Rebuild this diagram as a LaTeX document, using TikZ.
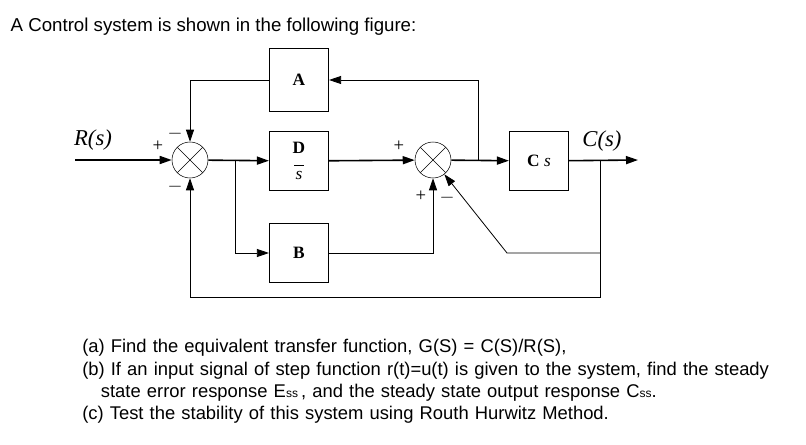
\documentclass[tikz,border=0pt]{standalone}
\usepackage{fontspec}
\setmainfont{Liberation Sans}
\newfontfamily\tms{Liberation Serif}
\usetikzlibrary{arrows.meta}

\begin{document}
\begin{tikzpicture}[x=0.75pt,y=-0.75pt,
    block/.style={draw, line width=1.1pt, minimum width=44pt, minimum height=44pt, font=\tms\bfseries\fontsize{13}{13}\selectfont},
    summ/.style={draw, circle, minimum size=27pt, inner sep=0pt, path picture={
      \draw (path picture bounding box.north west) -- (path picture bounding box.south east)
            (path picture bounding box.north east) -- (path picture bounding box.south west);}},
    sig/.style={font=\tms\fontsize{14}{14}\selectfont, inner sep=0pt},
    lbl/.style={font=\tms\itshape\fontsize{17}{17}\selectfont},
    >={Triangle[length=9pt,width=6pt]}]
  \useasboundingbox (0,0) rectangle (806,445);
  % title
  \node[anchor=west, font=\fontsize{14}{16}\selectfont] (title) at (6,27) {A Control system is shown in the following figure:};
  % define nodes
  \node[summ] (sum1) at (190,160) {};
  \node[summ] (sum2) at (433,160) {};
  \node[block, minimum height=47pt] (ba) at (299,80) {A};
  \node[block, align=center] (bd) at (299,161) {D\\[-4pt]\rule{7pt}{0.5pt}\\[-3pt]\mdseries\itshape s};
  \node[block] (bb) at (299,253) {B};
  \node[block] (bc) at (539,161) {C\ \mdseries\itshape s};
  \coordinate (rin) at (75,160);
  \coordinate (cout) at (638,160);
  \coordinate (pout) at (600,160);
  \coordinate (ptop) at (478,160);
  \coordinate (pbr) at (235,160);
  \coordinate (pdiag) at (507,253);
  % labels
  \node[lbl] (rs) at (93,140) {R(s)};
  \node[lbl] (cs) at (602,141) {C(s)};
  \node[sig] at (158,146) {+};
  \node[sig] at (175,134) {$-$};
  \node[sig] at (175,187) {$-$};
  \node[sig] at (399,146) {+};
  \node[sig] at (421,196) {+};
  \node[sig] at (447,198) {$-$};
  % forward path
  \draw[->, line width=1.2pt] (rin) -- (sum1);
  \draw[->, line width=1.2pt] (sum1) -- (bd);
  \draw[->, line width=1.2pt] (bd) -- (sum2);
  \draw[->, line width=1.2pt] (sum2) -- (bc);
  \draw[->, line width=1.2pt] (bc) -- (cout);
  % feedback and feedforward
  \draw[->, semithick] (ptop) |- (ba);
  \draw[->, semithick] (ba) -| (sum1);
  \draw[->, semithick] (pbr) |- (bb);
  \draw[->, semithick] (bb) -| (sum2);
  \draw[->, semithick] (pout) |- (190,297) -- (sum1);
  \draw[->, semithick] (pout |- pdiag) -- (pdiag) -- (sum2);
  % questions
  \node[anchor=north west, align=left, text width=720pt, inner sep=0pt, font=\fontsize{13.8}{16.8}\selectfont] (qs) at (82,339) {%
    (a) Find the equivalent transfer function, G(S) = C(S)/R(S),\\
    (b) If an input signal of step function r(t)=u(t) is given to the system, find the steady\\
    \hspace*{14pt}state error response E{\fontsize{9}{9}\selectfont ss}\,, and the steady state output response C{\fontsize{9}{9}\selectfont ss}.\\
    (c) Test the stability of this system using Routh Hurwitz Method.};
\end{tikzpicture}
\end{document}
